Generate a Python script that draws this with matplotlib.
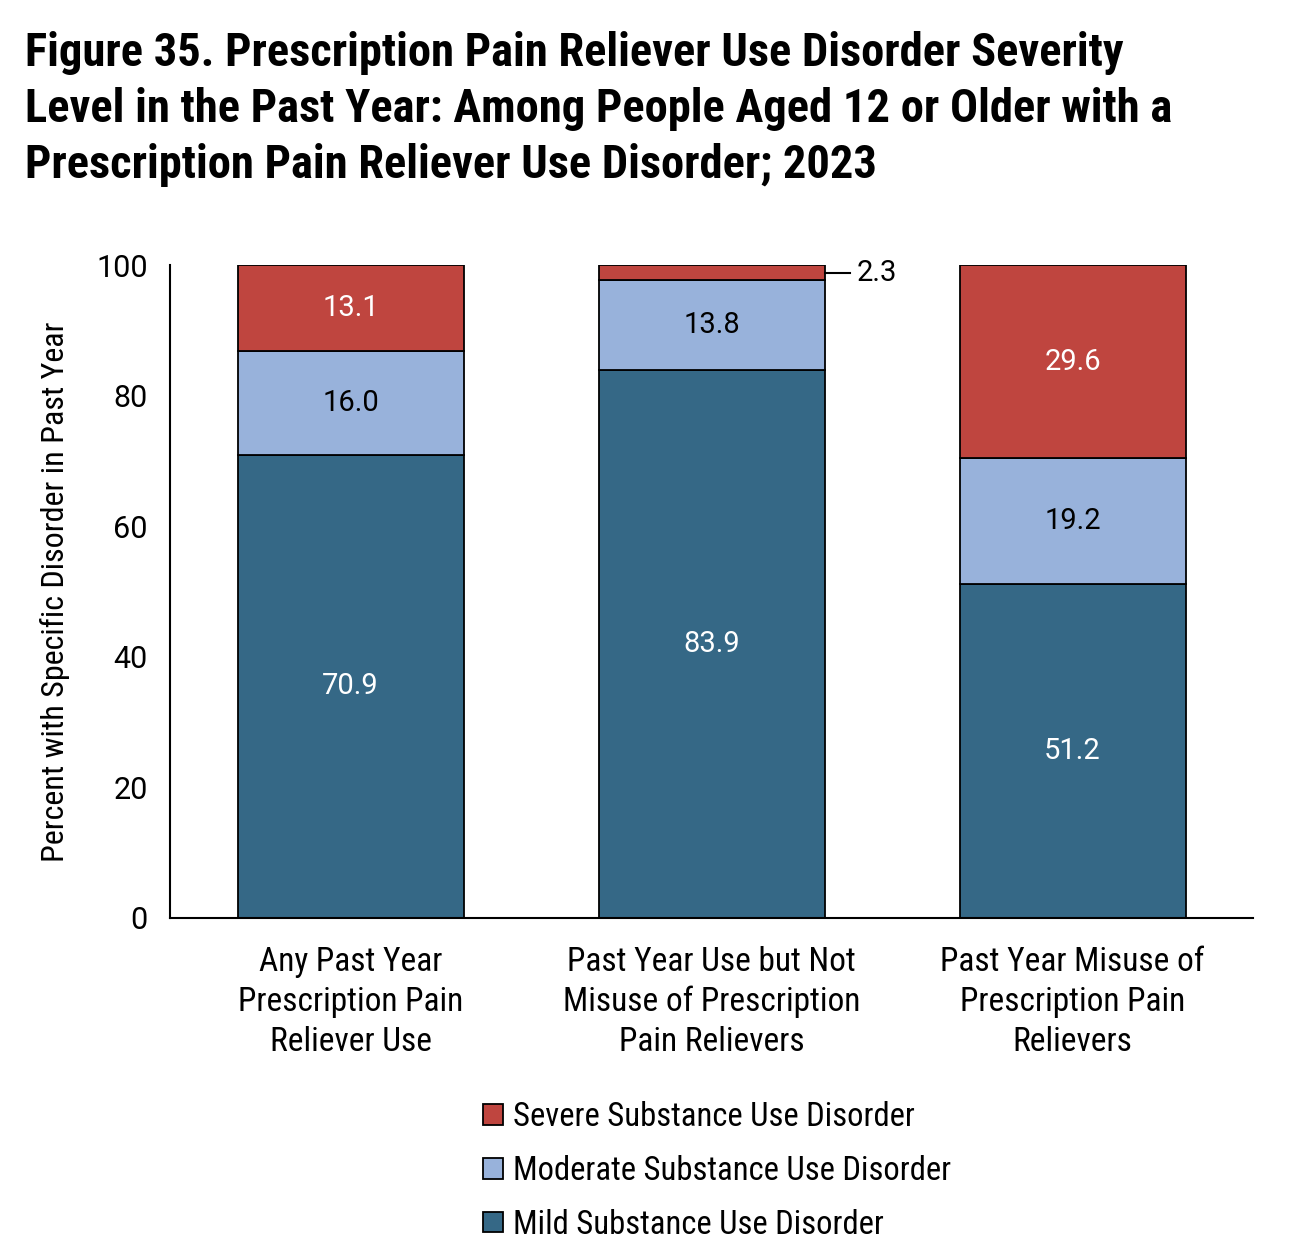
import matplotlib
matplotlib.use("Agg")
import matplotlib.pyplot as plt
from matplotlib.patches import Patch

categories = ["Any Past Year\nPrescription Pain\nReliever Use",
              "Past Year Use but Not\nMisuse of Prescription\nPain Relievers",
              "Past Year Misuse of\nPrescription Pain\nRelievers"]
mild = [70.9, 83.9, 51.2]
moderate = [16.0, 13.8, 19.2]
severe = [13.1, 2.3, 29.6]
series_names = ["Mild Substance Use Disorder",
                "Moderate Substance Use Disorder",
                "Severe Substance Use Disorder"]
colors = ["#356886", "#98B2DB", "#BF453F"]
text_colors = ["white", "black", "white"]

plt.rcParams['font.family'] = ['Roboto Condensed', 'DejaVu Sans']
num_font = ['Roboto', 'DejaVu Sans']

fig = plt.figure(figsize=(12.95, 12.59), dpi=100)
ax = fig.add_axes([0.1313, 0.2709, 0.8363, 0.5186])

x = list(range(len(categories)))
width = 0.626
bottoms = [0.0] * len(categories)
for vals, col, tcol in zip([mild, moderate, severe], colors, text_colors):
    ax.bar(x, vals, width, bottom=bottoms, color=col, edgecolor='black', linewidth=1.3, zorder=2)
    for i, v in enumerate(vals):
        if v >= 5:
            ax.text(x[i], bottoms[i] + v / 2, f"{v:.1f}", ha='center', va='center',
                    fontsize=21, color=tcol, family=num_font)
    bottoms = [b + v for b, v in zip(bottoms, vals)]

# callout for the thin severe segment
i = 1
y_mid = mild[i] + moderate[i] + severe[i] / 2
ax.plot([x[i] + width / 2, x[i] + width / 2 + 0.07], [y_mid, y_mid], color='black', lw=1.5,
        clip_on=False)
ax.text(x[i] + width / 2 + 0.088, y_mid, f"{severe[i]:.1f}", ha='left', va='center',
        fontsize=21, family=num_font)

ax.set_xlim(-0.5, 2.5)
ax.set_ylim(0, 100)
ax.set_yticks([0, 20, 40, 60, 80, 100])
ax.set_yticklabels(["0", "20", "40", "60", "80", "100"], family=num_font, fontsize=22)
ax.set_xticks(x)
ax.set_xticklabels(categories, fontsize=24, linespacing=1.32)
ax.tick_params(axis='both', length=0)
ax.tick_params(axis='x', pad=20)
ax.tick_params(axis='y', pad=16)
for s in ['top', 'right']:
    ax.spines[s].set_visible(False)
for s in ['left', 'bottom']:
    ax.spines[s].set_linewidth(1.5)
ax.set_ylabel("Percent with Specific Disorder in Past Year", fontsize=23)
ax.yaxis.set_label_coords(-0.092, 0.5)

handles = [Patch(facecolor=c, edgecolor='black', linewidth=1.3) for c in colors[::-1]]
fig.legend(handles, series_names[::-1], loc='upper left', bbox_to_anchor=(0.363, 0.136),
           frameon=False, fontsize=23.5, handlelength=0.6, handleheight=0.6,
           handletextpad=0.3, labelspacing=0.67, borderaxespad=0)

fig.text(0.019, 0.975, "Figure 35. Prescription Pain Reliever Use Disorder Severity\n"
         "Level in the Past Year: Among People Aged 12 or Older with a\n"
         "Prescription Pain Reliever Use Disorder; 2023",
         ha='left', va='top', fontsize=33.5, fontweight='bold', linespacing=1.34)

fig.savefig("out.png", dpi=100)
